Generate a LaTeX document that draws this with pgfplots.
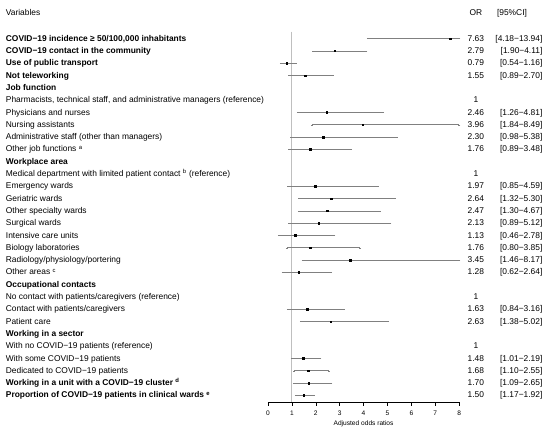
\documentclass[border=0pt]{standalone}
\usepackage{pgfplots}
\pgfplotsset{compat=1.18}
\usepackage{pgfplotstable}
\usepackage{fontspec}
\setmainfont{Liberation Sans}

\pgfplotstableread{
row or lo hi
1 7.63 4.18 13.94
2 2.79 1.90 4.11
3 0.79 0.54 1.16
4 1.55 0.89 2.70
7 2.46 1.26 4.81
8 3.96 1.84 8.49
9 2.30 0.98 5.38
10 1.76 0.89 3.48
13 1.97 0.85 4.59
14 2.64 1.32 5.30
15 2.47 1.30 4.67
16 2.13 0.89 5.12
17 1.13 0.46 2.78
18 1.76 0.80 3.85
19 3.45 1.46 8.17
20 1.28 0.62 2.64
23 1.63 0.84 3.16
24 2.63 1.38 5.02
27 1.48 1.01 2.19
28 1.68 1.10 2.55
29 1.70 1.09 2.65
30 1.50 1.17 1.92
}\ortable

\newcommand{\lab}[2]{\node[anchor=mid west, inner sep=0pt] at (axis cs:-10.97,-#1) {#2};}
\newcommand{\blab}[2]{\node[anchor=mid west, inner sep=0pt, font=\fontsize{8.4}{10}\selectfont\bfseries] at (axis cs:-10.97,-#1) {#2};}
\newcommand{\orv}[3]{\node[anchor=mid, inner sep=0pt] at (axis cs:8.70,-#1) {#2};
  \node[anchor=mid east, inner sep=0pt] at (axis cs:11.49,-#1) {#3};}
\newcommand{\orr}[1]{\node[anchor=mid, inner sep=0pt] at (axis cs:8.70,-#1) {1};}

\begin{document}
\begin{tikzpicture}[font=\fontsize{8.4}{10}\selectfont]
\begin{axis}[
  x=23.9pt, y=12.3pt,
  xmin=0, xmax=8, ymin=-30.57, ymax=-0.44,
  axis x line=bottom, axis y line=none,
  x axis line style={-, black, line width=0.5pt},
  xtick={0,1,2,3,4,5,6,7,8},
  tick align=outside,
  major tick length=3.3pt,
  tick style={black, line width=0.5pt},
  /pgf/number format/assume math mode=true,
  xticklabel style={font=\fontsize{6.6}{8}\selectfont, anchor=north, yshift=-2pt},
  xlabel={Adjusted odds ratios},
  xlabel style={font=\fontsize{6.6}{8}\selectfont, at={(axis description cs:0.5,0)}, anchor=center, yshift=-21pt},
  clip=false,
]
\addplot[draw=black!25, line width=1.1pt] coordinates {(1,-0.44) (1,-30.57)};
\addplot[only marks, mark=square*, mark size=0.8pt, black,
  error bars/.cd, x dir=both, x explicit,
  error bar style={black!50, line width=0.5pt},
  error mark options={black!50, mark size=1.1pt, line width=0.4pt}]
  table[x=or, y expr=-\thisrow{row},
        x error plus expr={min(\thisrow{hi},8)-\thisrow{or}},
        x error minus expr={\thisrow{or}-\thisrow{lo}}] {\ortable};

\node[anchor=mid west, inner sep=0pt] at (axis cs:-10.97,1.08) {Variables};
\node[anchor=mid, inner sep=0pt] at (axis cs:8.70,1.08) {OR};
\node[anchor=mid, inner sep=0pt] at (axis cs:10.21,1.08) {[95\%CI]};

\blab{1}{COVID−19 incidence ≥ 50/100,000 inhabitants}
\blab{2}{COVID−19 contact in the community}
\blab{3}{Use of public transport}
\blab{4}{Not teleworking}
\blab{5}{Job function}
\lab{6}{Pharmacists, technical staff, and administrative managers (reference)}
\lab{7}{Physicians and nurses}
\lab{8}{Nursing assistants}
\lab{9}{Administrative staff (other than managers)}
\lab{10}{Other job functions \textsuperscript{a}}
\blab{11}{Workplace area}
\lab{12}{Medical department with limited patient contact \textsuperscript{b} (reference)}
\lab{13}{Emergency wards}
\lab{14}{Geriatric wards}
\lab{15}{Other specialty wards}
\lab{16}{Surgical wards}
\lab{17}{Intensive care units}
\lab{18}{Biology laboratories}
\lab{19}{Radiology/physiology/portering}
\lab{20}{Other areas \textsuperscript{c}}
\blab{21}{Occupational contacts}
\lab{22}{No contact with patients/caregivers (reference)}
\lab{23}{Contact with patients/caregivers}
\lab{24}{Patient care}
\blab{25}{Working in a sector}
\lab{26}{With no COVID−19 patients (reference)}
\lab{27}{With some COVID−19 patients}
\lab{28}{Dedicated to COVID−19 patients}
\blab{29}{Working in a unit with a COVID−19 cluster \textsuperscript{d}}
\blab{30}{Proportion of COVID−19 patients in clinical wards \textsuperscript{e}}

\orv{1}{7.63}{[4.18−13.94]}
\orv{2}{2.79}{[1.90−4.11]}
\orv{3}{0.79}{[0.54−1.16]}
\orv{4}{1.55}{[0.89−2.70]}
\orr{6}
\orv{7}{2.46}{[1.26−4.81]}
\orv{8}{3.96}{[1.84−8.49]}
\orv{9}{2.30}{[0.98−5.38]}
\orv{10}{1.76}{[0.89−3.48]}
\orr{12}
\orv{13}{1.97}{[0.85−4.59]}
\orv{14}{2.64}{[1.32−5.30]}
\orv{15}{2.47}{[1.30−4.67]}
\orv{16}{2.13}{[0.89−5.12]}
\orv{17}{1.13}{[0.46−2.78]}
\orv{18}{1.76}{[0.80−3.85]}
\orv{19}{3.45}{[1.46−8.17]}
\orv{20}{1.28}{[0.62−2.64]}
\orr{22}
\orv{23}{1.63}{[0.84−3.16]}
\orv{24}{2.63}{[1.38−5.02]}
\orr{26}
\orv{27}{1.48}{[1.01−2.19]}
\orv{28}{1.68}{[1.10−2.55]}
\orv{29}{1.70}{[1.09−2.65]}
\orv{30}{1.50}{[1.17−1.92]}

\coordinate (bbA) at (axis cs:-11.21,2.138);
\coordinate (bbB) at (axis cs:11.80,-33.07);
\end{axis}
\pgfresetboundingbox
\path[use as bounding box] (bbA) rectangle (bbB);
\end{tikzpicture}
\end{document}
